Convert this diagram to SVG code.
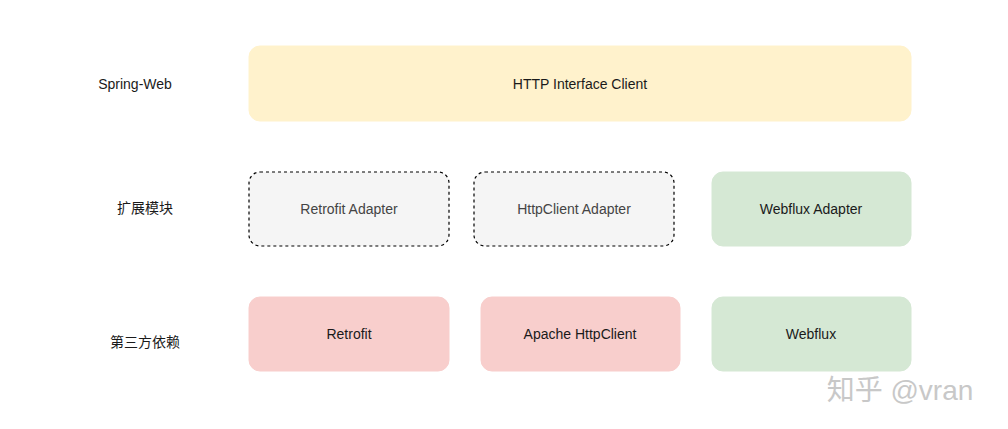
<svg xmlns="http://www.w3.org/2000/svg" width="1008" height="429" viewBox="0 0 1008 429">
<style>
text{font-family:"Liberation Sans","Noto Sans CJK SC",sans-serif;font-size:14px;fill:#1a1a1a;text-anchor:middle;dominant-baseline:central}
.y{fill:#fff2cc;stroke:#fff2cc}
.g{fill:#d5e8d4;stroke:#d5e8d4}
.r{fill:#f8cecc;stroke:#f8cecc}
.d{fill:#f5f5f5;stroke:#000;stroke-dasharray:3 3;stroke-width:1.2}
.s{fill:#444}
</style>
<rect width="1008" height="429" fill="#fff"/>
<text x="135" y="84">Spring-Web</text>
<text x="145" y="208">扩展模块</text>
<text x="145" y="342">第三方依赖</text>
<g id="http"><rect class="y" x="249" y="46" width="662" height="75" rx="11"/><text x="580" y="84">HTTP Interface Client</text></g>
<g id="retrofitAdapter"><rect class="d" x="249" y="172" width="200" height="74" rx="11"/><text class="s" x="349" y="209">Retrofit Adapter</text></g>
<g id="httpClientAdapter"><rect class="d" x="474" y="172" width="200" height="74" rx="11"/><text class="s" x="574" y="209">HttpClient Adapter</text></g>
<g id="webfluxAdapter"><rect class="g" x="712" y="172" width="199" height="74" rx="11"/><text x="811" y="209">Webflux Adapter</text></g>
<g id="retrofit"><rect class="r" x="249" y="297" width="200" height="74" rx="11"/><text x="349" y="334">Retrofit</text></g>
<g id="apache"><rect class="r" x="481" y="297" width="199" height="74" rx="11"/><text x="580" y="334">Apache HttpClient</text></g>
<g id="webflux"><rect class="g" x="712" y="297" width="199" height="74" rx="11"/><text x="811" y="334">Webflux</text></g>
<g id="connectors"></g>
<text x="900" y="390" style="font-size:28px;fill:#c8c8c8">知乎 @vran</text>
</svg>
